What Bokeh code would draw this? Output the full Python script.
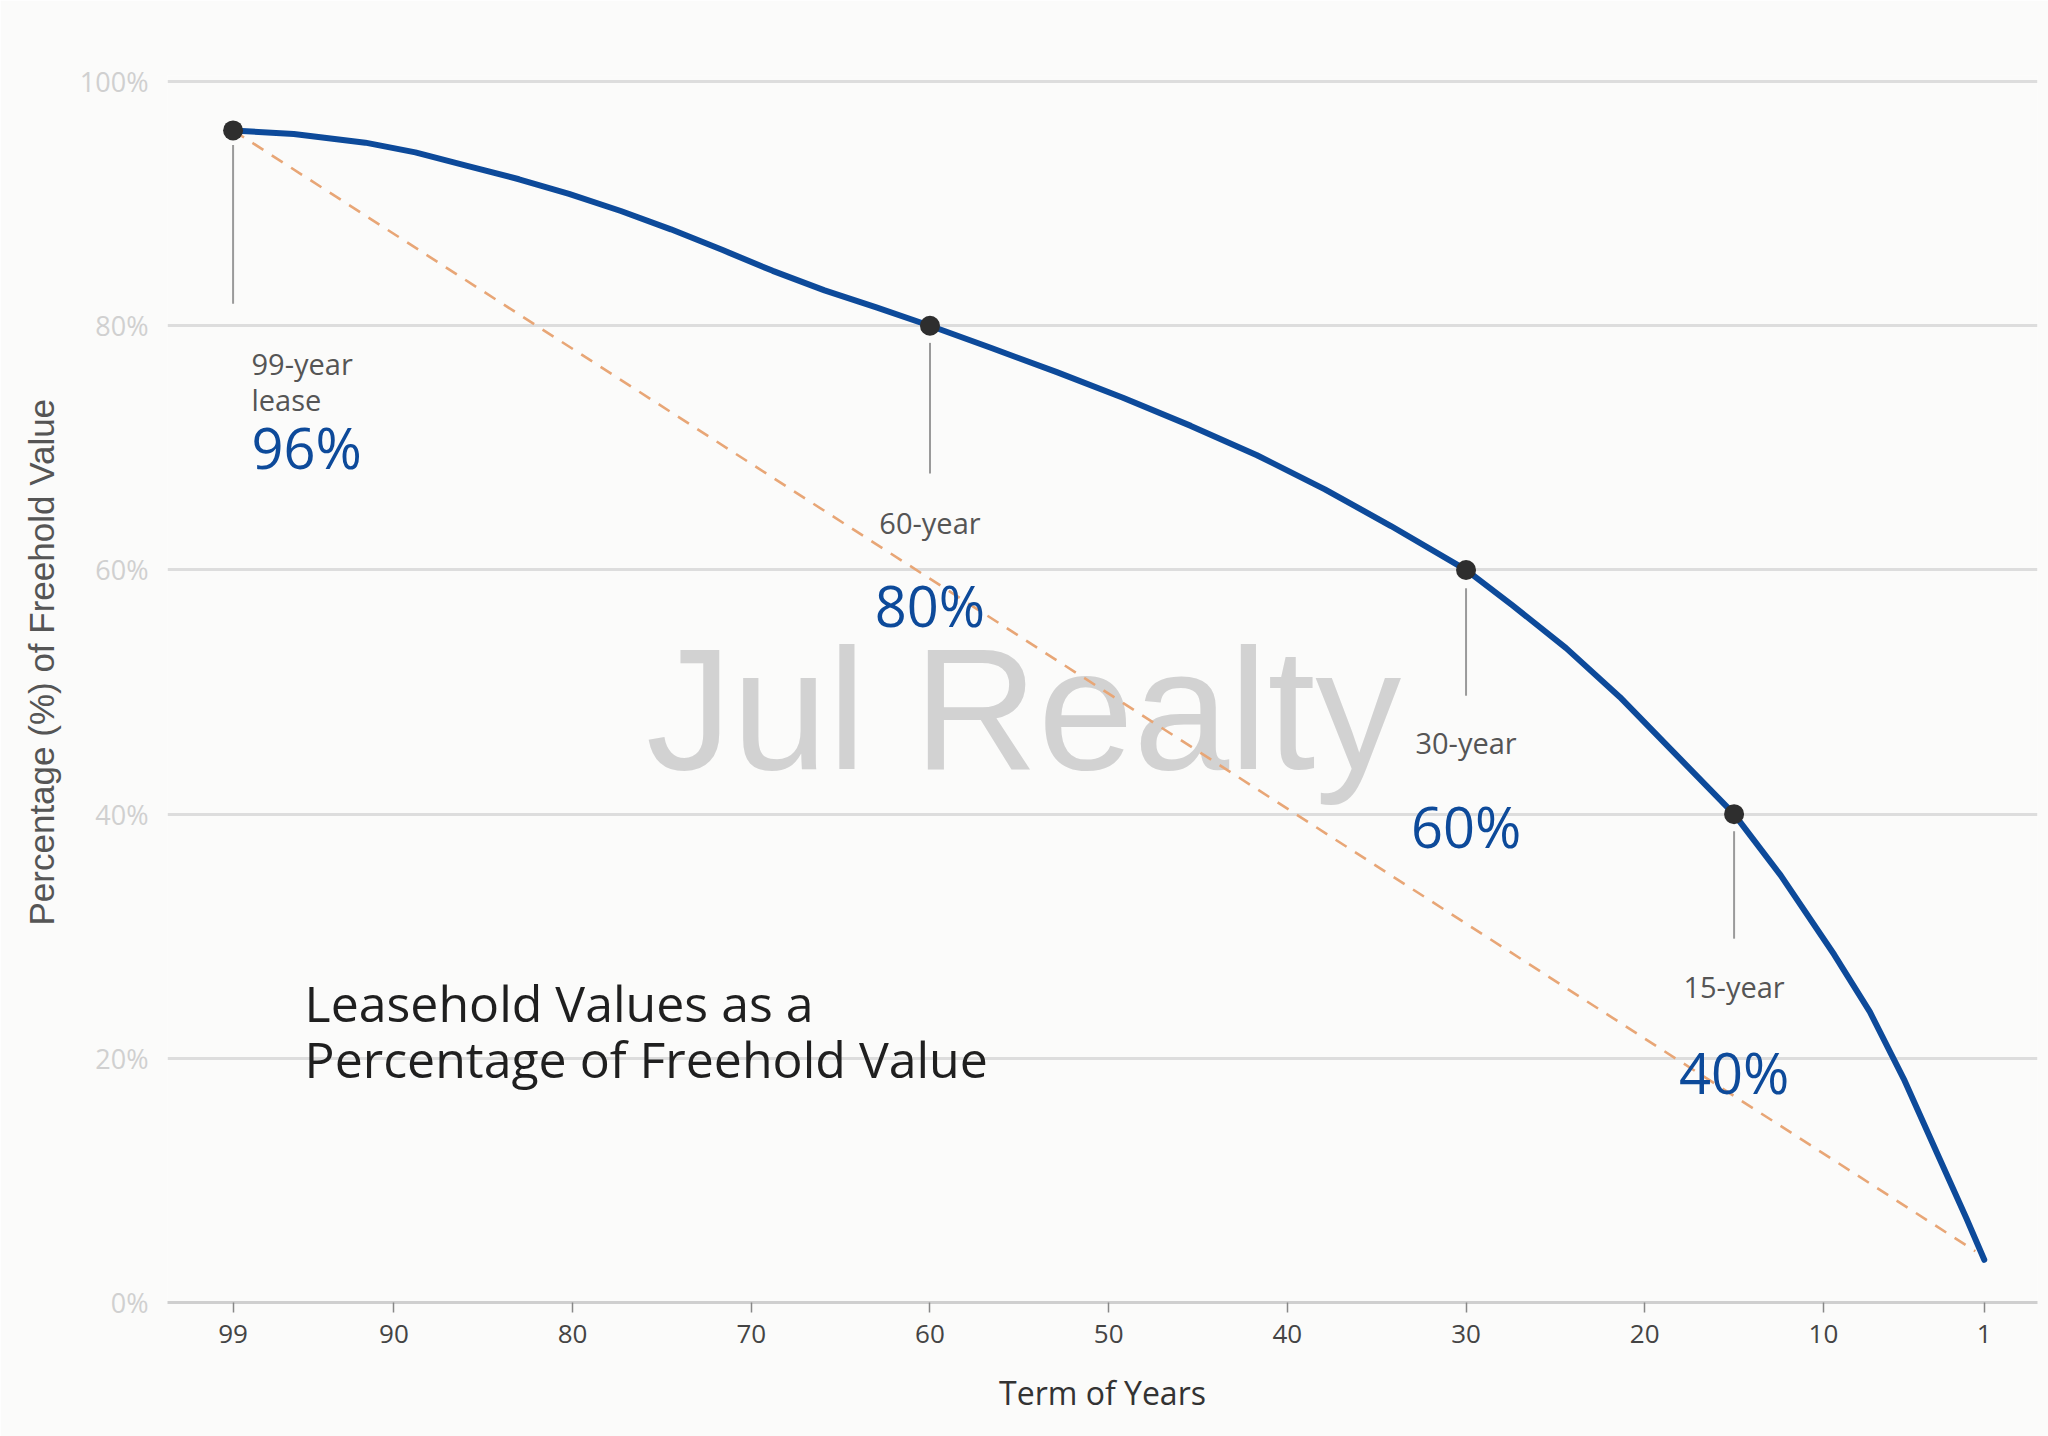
from bokeh.plotting import figure
from bokeh.models import Range1d, FixedTicker, PrintfTickFormatter, Title
from bokeh.core.properties import value
from bokeh.embed import file_html
from bokeh.resources import INLINE

# Leasehold value curve: remaining term (years) vs % of freehold value
term_years = [99, 95.6, 91.6, 88.8, 85.9, 83.0, 80.2, 77.3, 74.5, 71.6, 68.8, 65.9, 63.0, 60,
              56.6, 52.9, 49.2, 45.4, 41.7, 37.9, 34.2, 30, 27.4, 24.4, 21.4, 18.4, 15,
              12.4, 9.4, 7.4, 5.5, 3.6, 2, 1]
pct_value = [96, 95.7, 95.0, 94.2, 93.1, 92.0, 90.8, 89.4, 87.9, 86.2, 84.5, 82.9, 81.5, 80,
             78.2, 76.2, 74.1, 71.8, 69.4, 66.6, 63.6, 60, 57.1, 53.6, 49.6, 45.1, 40,
             35.0, 28.5, 23.8, 18.3, 12.1, 6.9, 3.5]

# Straight-line (linear) depreciation reference
linear_years = [99, 1.5]
linear_pct = [96, 4.2]

# Highlighted lease terms
key_terms = [99, 60, 30, 15]
key_pcts = [96, 80, 60, 40]
key_names = ["99-year", "60-year", "30-year", "15-year"]
key_value_labels = ["96%", "80%", "60%", "40%"]

x_ticks = [99, 90, 80, 70, 60, 50, 40, 30, 20, 10, 1]
y_ticks = [0, 20, 40, 60, 80, 100]

BG = "#fbfbfa"
BLUE = "#0d4a9a"
FONT = "Open Sans"

p = figure(width=2048, height=1436, output_backend="svg", toolbar_location=None,
           x_range=Range1d(102.67, -1.98), y_range=Range1d(0, 100.5),
           min_border_left=167, min_border_right=11, min_border_top=75, min_border_bottom=134,
           background_fill_color=BG, border_fill_color=BG, outline_line_color=None)

# Axes
p.xaxis.ticker = FixedTicker(ticks=x_ticks)
p.xaxis.axis_label = "Term of Years"
p.xaxis.axis_label_text_font = FONT
p.xaxis.axis_label_text_font_size = "32px"
p.xaxis.axis_label_text_font_style = "normal"
p.xaxis.axis_label_text_color = "#333333"
p.xaxis.axis_label_standoff = 25
p.xaxis.axis_line_color = "#cfcfcf"
p.xaxis.axis_line_width = 3
p.xaxis.major_tick_line_color = "#888888"
p.xaxis.major_tick_line_width = 1.5
p.xaxis.major_tick_out = 10
p.xaxis.major_tick_in = 0
p.xaxis.minor_tick_line_color = None
p.xaxis.major_label_text_font = FONT
p.xaxis.major_label_text_font_size = "26px"
p.xaxis.major_label_text_color = "#444444"
p.xaxis.major_label_standoff = 12

p.yaxis.ticker = FixedTicker(ticks=y_ticks)
p.yaxis.formatter = PrintfTickFormatter(format="%d%%")
p.yaxis.axis_line_color = None
p.yaxis.major_tick_line_color = None
p.yaxis.minor_tick_line_color = None
p.yaxis.major_label_text_font = FONT
p.yaxis.major_label_text_font_size = "27px"
p.yaxis.major_label_text_color = "#d0d0d0"
p.yaxis.major_label_standoff = 13

# Vertical axis title in the left margin
y_title = Title(text="Percentage (%) of Freehold Value", align="left", offset=377,
                standoff=32, text_font="Liberation Sans", text_font_size="35px",
                text_font_style="normal", text_color="#555555")
p.add_layout(y_title, "left")

p.xgrid.grid_line_color = None
p.ygrid.grid_line_color = "#dddddd"
p.ygrid.grid_line_width = 3

# Watermark
p.text(x=[54.76], y=[48.6], text=["Jul Realty"], text_font=value("Liberation Sans"),
       text_font_size=value("172px"), text_color="#d2d2d2", text_align="center",
       text_baseline="middle")

# Linear reference line
p.line(linear_years, linear_pct, line_color="#e8a676", line_width=2.6, line_dash="13 10")

# Value curve
p.line(term_years, pct_value, line_color=BLUE, line_width=6, line_join="round", line_cap="round")

# Leader lines under each highlighted point
lead_top = [94.8, 78.6, 58.5, 38.6]
lead_bottom = [81.8, 67.9, 49.7, 29.8]
p.segment(x0=key_terms, y0=lead_top, x1=key_terms, y1=lead_bottom,
          line_color="#9a9a9a", line_width=2)

p.scatter(key_terms, key_pcts, size=20, fill_color="#2e2e2e", line_color=None)

# Annotations for highlighted terms
p.text(x=[97.97, 97.97], y=[76.9, 74.0], text=[key_names[0], "lease"], text_font=value(FONT),
       text_font_size=value("29px"), text_color="#555555", text_align="left",
       text_baseline="middle")
p.text(x=[97.97], y=[70.05], text=[key_value_labels[0]], text_font=value(FONT),
       text_font_size=value("56px"), text_color=BLUE, text_align="left",
       text_baseline="middle")

p.text(x=key_terms[1:], y=[63.9, 45.9, 25.9], text=key_names[1:], text_font=value(FONT),
       text_font_size=value("29px"), text_color="#555555", text_align="center",
       text_baseline="middle")
p.text(x=key_terms[1:], y=[57.1, 39.0, 18.9], text=key_value_labels[1:], text_font=value(FONT),
       text_font_size=value("56px"), text_color=BLUE, text_align="center",
       text_baseline="middle")

# Chart title inside the plot
p.text(x=[95.0, 95.0], y=[24.57, 19.98],
       text=["Leasehold Values as a", "Percentage of Freehold Value"],
       text_font=value(FONT), text_font_size=value("50px"), text_color="#1f1f1f",
       text_align="left", text_baseline="middle")

open("out.html", "w").write(file_html(p, INLINE))
